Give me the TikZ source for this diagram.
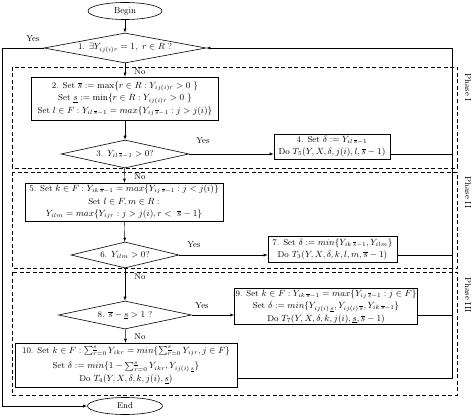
\documentclass[tikz,border=0pt]{standalone}
\usepackage{amsmath,amssymb}
\usetikzlibrary{shapes,arrows}

\begin{document}
\begin{tikzpicture}[
            x=1pt, y=-1pt, >=latex,
            box/.style={draw, rectangle, align=center, font=\fontsize{8.6}{12.5}\selectfont, inner sep=1pt, line width=0.6pt},
            test/.style={draw, diamond, align=center, font=\fontsize{8.6}{12.5}\selectfont, inner sep=0pt, line width=0.6pt},
            term/.style={draw, ellipse, font=\fontsize{8.6}{12.5}\selectfont, inner sep=0pt, line width=0.6pt},
            phase/.style={draw, dash pattern=on 4pt off 2.5pt, line width=0.7pt},
            lbl/.style={font=\fontsize{8.6}{12.5}\selectfont, inner sep=1pt}
        ]
            \useasboundingbox (0,0) rectangle (474,417);

            % phase frames
            \draw[phase] (12,67) rectangle (457,168);
            \draw[phase] (12,172) rectangle (457,268);
            \draw[phase] (12,272) rectangle (457,395);
            \node[lbl, rotate=-90, anchor=west] (ph1) at (468,72) {Phase I};
            \node[lbl, rotate=-90, anchor=west] (ph2) at (468,175) {Phase II};
            \node[lbl, rotate=-90, anchor=west] (ph3) at (468,276) {Phase III};

            \node[term, minimum width=74pt, minimum height=17pt] (begin) at (125,11) {Begin};
            \node[test, aspect=5.4, minimum width=162pt, minimum height=30pt] (q1) at (125,48) {1. $\exists Y_{ij(i)r}=1,\ r\in R$ ?};
            \node[box, minimum width=187pt, minimum height=43pt] (s2) at (125,98.5)
                {2. Set $\overline{s}:=\max\{r\in R: Y_{ij(i)r}>0\ \}$\\
                 Set $\underline{s}:=\min\{r\in R: Y_{ij(i)r}>0\ \}$\\
                 Set $l\in F: Y_{il\,\overline{s}-1}=max\{Y_{ij\,\overline{s}-1}: j>j(i)\}$};
            \node[test, aspect=4.6, minimum width=128pt, minimum height=28pt] (q3) at (125,154) {3. $Y_{il\,\overline{s}-1}>0$?};
            \node[box, minimum width=116pt, minimum height=25pt] (s4) at (332,146.5)
                {4. Set $\delta:=Y_{il\,\overline{s}-1}$\\
                 Do $T_5(Y,X,\delta,j(i),l,\overline{s}-1)$};
            \node[box, minimum width=198pt, minimum height=38pt] (s5) at (124,202)
                {5. Set $k\in F: Y_{ik\,\overline{s}-1}=max\{Y_{ij\,\overline{s}-1}: j<j(i)\}$\\
                 Set $l\in F, m\in R:$\\
                 $Y_{ilm}=max\{Y_{ijr}: j>j(i), r<\ \overline{s}-1\}$};
            \node[test, aspect=4.15, minimum width=108pt, minimum height=26pt] (q6) at (125,255) {6. $Y_{ilm}>0$?};
            \node[box, minimum width=129pt, minimum height=26pt] (s7) at (332.5,249)
                {7. Set $\delta:=min\{Y_{ik\,\overline{s}-1},Y_{ilm}\}$\\
                 Do $T_3(Y,X,\delta,k,l,m,\overline{s}-1)$};
            \node[test, aspect=4.75, minimum width=133pt, minimum height=28pt] (q8) at (125,315) {8. $\overline{s}-\underline{s}>1$ ?};
            \node[box, minimum width=178pt, minimum height=35pt] (s9) at (326,306.5)
                {9. Set $k\in F: Y_{ik\,\overline{s}-1}=max\{Y_{ij\,\overline{s}-1}: j\in F\}$\\
                 Set $\delta:=min\{Y_{ij(i)\,\underline{s}},Y_{ij(i)\,\overline{s}},Y_{ik\,\overline{s}-1}\}$\\
                 Do $T_7(Y,X,\delta,k,j(i),\underline{s},\overline{s}-1)$};
            \node[box, minimum width=222pt, minimum height=44pt] (s10) at (126,365)
                {10. Set $k\in F:\sum_{r=0}^{\underline{s}}Y_{ikr}=min\{\sum_{r=0}^{\underline{s}}Y_{ijr}, j\in F\}$\\[3pt]
                 Set $\delta:=min\{1-\sum_{r=0}^{\underline{s}}Y_{ikr},Y_{ij(i)\,\underline{s}}\}$\\
                 Do $T_4(Y,X,\delta,k,j(i),\underline{s})$};
            \node[term, minimum width=75pt, minimum height=17pt] (end) at (125,406) {End};

            % helper points on the outer loops
            \coordinate (lft) at (2,48);
            \coordinate (rgt) at (452,48);

            \draw[->] (begin) -- (q1);
            \draw[->] (q1) -- (s2);
            \draw[->] (s2) -- (q3);
            \draw[->] (q3) -- (s5);
            \draw[->] (s5) -- (q6);
            \draw[->] (q6) -- (q8);
            \draw[->] (q8) -- (s10);
            \draw[->] (q3.east) -- (q3.east -| s4.west);
            \draw[->] (q6.east) -- (q6.east -| s7.west);
            \draw[->] (q8.east) -- (q8.east -| s9.west);
            \draw[->] (q1.west) -- (lft) |- (end.west);
            \draw[->] ([yshift=-13pt]s10.east) -- ([yshift=-13pt]s10.east -| rgt) -- (rgt) -- (q1.east);
            \draw (s4.east |- q3.east) -- (q3.east -| rgt);
            \draw (s7.east |- q6.east) -- (q6.east -| rgt);
            \draw (s9.east |- q8.east) -- (q8.east -| rgt);

            \node[lbl] (yes1) at (33,39) {Yes};
            \node[lbl] (yes3) at (203,141) {Yes};
            \node[lbl] (yes6) at (194,245) {Yes};
            \node[lbl] (yes8) at (202,306) {Yes};
            \node[lbl] (no1) at (140,72) {No};
            \node[lbl] (no3) at (140,177) {No};
            \node[lbl] (no6) at (140,277) {No};
            \node[lbl] (no8) at (140,337) {No};
        \end{tikzpicture}
\end{document}
